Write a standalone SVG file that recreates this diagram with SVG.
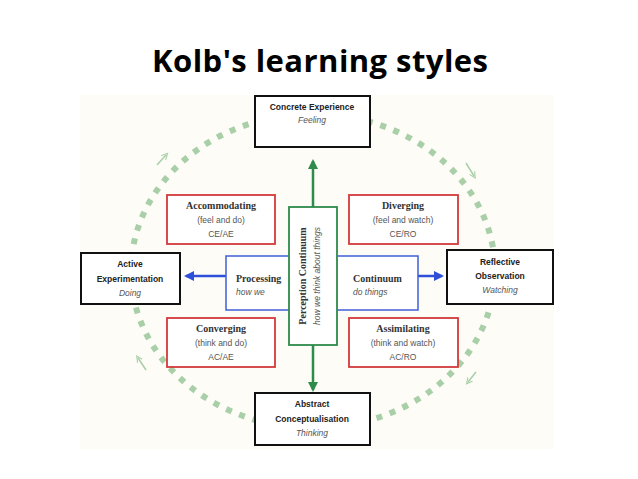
<svg xmlns="http://www.w3.org/2000/svg" width="638" height="479" viewBox="0 0 638 479">
<defs>
<style>
.b{fill:#fff;stroke:#111;stroke-width:2}
.r{fill:#fff;stroke:#d23a3a;stroke-width:1.8}
.t{font-family:"Liberation Sans",Arial,sans-serif;font-size:8.5px;fill:#222;text-anchor:middle}
.bd{font-weight:bold}
.it{font-style:italic;fill:#555}
.s{font-family:"Liberation Serif",serif;font-size:10px;font-weight:bold;fill:#333;text-anchor:middle}
.g{font-family:"Liberation Sans",Arial,sans-serif;font-size:8.5px;fill:#555;text-anchor:middle}
</style>
<marker id="ag" viewBox="0 0 10 10" refX="8" refY="5" markerWidth="4" markerHeight="4" orient="auto"><path d="M0,0L10,5L0,10z" fill="#2e8b4a"/></marker>
<marker id="ab" viewBox="0 0 10 10" refX="8" refY="5" markerWidth="4" markerHeight="4" orient="auto"><path d="M0,0L10,5L0,10z" fill="#2f4fd8"/></marker>
<marker id="al" viewBox="0 0 10 10" refX="5" refY="5" markerWidth="5" markerHeight="5" orient="auto"><path d="M0,1L8,5L0,9" fill="none" stroke="#a8cfa8" stroke-width="1.5"/></marker>
</defs>
<rect width="638" height="479" fill="#fff"/>
<text x="320" y="72" font-family="Open Sans,Liberation Sans,Arial,sans-serif" font-size="31" font-weight="bold" text-anchor="middle" textLength="336" fill="#000">Kolb's learning styles</text>
<rect x="80" y="95" width="474" height="354" fill="#fdfcf7"/>
<g id="cycle">
<ellipse cx="313" cy="271" rx="182" ry="157" fill="none" stroke="#a8cfa8" stroke-width="6" stroke-dasharray="6 8"/>
<path d="M157,165 L166,155" stroke="#a8cfa8" stroke-width="1.5" marker-end="url(#al)"/>
<path d="M466,163 L474,176" stroke="#a8cfa8" stroke-width="1.5" marker-end="url(#al)"/>
<path d="M476,372 L468,382" stroke="#a8cfa8" stroke-width="1.5" marker-end="url(#al)"/>
<path d="M146,370 L138,358" stroke="#a8cfa8" stroke-width="1.5" marker-end="url(#al)"/>
</g>
<g id="connectors">
<line x1="313" y1="207" x2="313" y2="161" stroke="#2e8b4a" stroke-width="2.5" marker-end="url(#ag)"/>
<line x1="313" y1="345" x2="313" y2="390" stroke="#2e8b4a" stroke-width="2.5" marker-end="url(#ag)"/>
<line x1="226" y1="276" x2="186" y2="276" stroke="#2f4fd8" stroke-width="2.5" marker-end="url(#ab)"/>
<line x1="418" y1="276" x2="442" y2="276" stroke="#2f4fd8" stroke-width="2.5" marker-end="url(#ab)"/>
</g>
<g id="processing">
<rect x="226" y="256" width="192" height="54" fill="#fff" stroke="#3f5fd8" stroke-width="1.5"/>
<text class="s" x="236" y="282" style="text-anchor:start">Processing</text>
<text class="t it" x="236" y="295" style="text-anchor:start">how we</text>
<text class="s" x="353" y="282" style="text-anchor:start">Continuum</text>
<text class="t it" x="353" y="295" style="text-anchor:start">do things</text>
</g>
<g id="perception">
<rect x="289" y="207" width="48" height="138" fill="#fff" stroke="#2e8b4a" stroke-width="1.8"/>
<text class="s" transform="translate(306,276) rotate(-90)">Perception Continuum</text>
<text class="t it" transform="translate(320,276) rotate(-90)">how we think about things</text>
</g>
<g id="ce"><rect class="b" x="255" y="96" width="115" height="51"/>
<text class="t bd" x="312" y="110">Concrete Experience</text><text class="t it" x="312" y="123">Feeling</text></g>
<g id="ac"><rect class="b" x="255" y="393" width="115" height="52"/>
<text class="t bd" x="312" y="407">Abstract</text><text class="t bd" x="312" y="422">Conceptualisation</text><text class="t it" x="312" y="436">Thinking</text></g>
<g id="ae"><rect class="b" x="81" y="253" width="99" height="51"/>
<text class="t bd" x="130" y="267">Active</text><text class="t bd" x="130" y="282">Experimentation</text><text class="t it" x="130" y="296">Doing</text></g>
<g id="ro"><rect class="b" x="447" y="250" width="106" height="54"/>
<text class="t bd" x="500" y="265">Reflective</text><text class="t bd" x="500" y="279">Observation</text><text class="t it" x="500" y="293">Watching</text></g>
<g id="accommodating"><rect class="r" x="167" y="195" width="108" height="49"/>
<text class="s" x="221" y="209">Accommodating</text><text class="g" x="221" y="223">(feel and do)</text><text class="g" x="221" y="237">CE/AE</text></g>
<g id="diverging"><rect class="r" x="349" y="195" width="109" height="49"/>
<text class="s" x="403" y="209">Diverging</text><text class="g" x="403" y="223">(feel and watch)</text><text class="g" x="403" y="237">CE/RO</text></g>
<g id="converging"><rect class="r" x="167" y="318" width="108" height="49"/>
<text class="s" x="221" y="332">Converging</text><text class="g" x="221" y="346">(think and do)</text><text class="g" x="221" y="360">AC/AE</text></g>
<g id="assimilating"><rect class="r" x="349" y="318" width="109" height="49"/>
<text class="s" x="403" y="332">Assimilating</text><text class="g" x="403" y="346">(think and watch)</text><text class="g" x="403" y="360">AC/RO</text></g>
</svg>
